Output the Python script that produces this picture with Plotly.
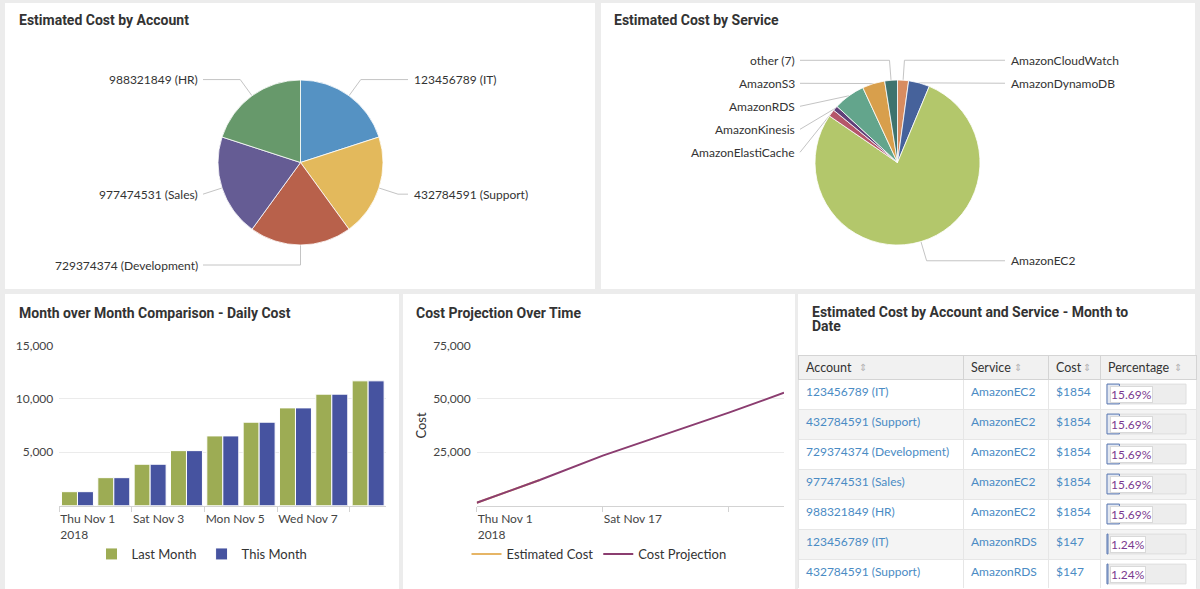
import math
import plotly.graph_objects as go

W, H = 1200, 589

# ---------------- data ----------------
account_labels = ["123456789 (IT)", "432784591 (Support)", "729374374 (Development)",
                  "977474531 (Sales)", "988321849 (HR)"]
account_costs = [2363, 2363, 2363, 2363, 2363]
account_colors = ["#5592c3", "#e3b95c", "#b8614b", "#655c94", "#67996b"]

service_labels = ["AmazonCloudWatch", "AmazonDynamoDB", "AmazonEC2", "AmazonElastiCache",
                  "AmazonKinesis", "AmazonRDS", "AmazonS3", "other (7)"]
service_costs = [256, 489, 9270, 164, 115, 735, 522, 295]
service_colors = ["#d88c60", "#46629b", "#b3c76b", "#b5566a", "#603f78", "#63a58c", "#d89f4c", "#3e736e"]

bar_days = ["2018-11-01 12:00", "2018-11-02 12:00", "2018-11-03 12:00", "2018-11-04 12:00",
            "2018-11-05 12:00", "2018-11-06 12:00", "2018-11-07 12:00", "2018-11-08 12:00",
            "2018-11-09 12:00"]
last_month_cost = [1311, 2622, 3876, 5150, 6526, 7809, 9148, 10431, 11676]
this_month_cost = [1311, 2622, 3876, 5150, 6526, 7809, 9148, 10431, 11676]
bar_tick_dates = ["2018-11-01", "2018-11-03", "2018-11-05", "2018-11-07", "2018-11-09"]
bar_tick_labels = ["Thu Nov 1<br>2018", "Sat Nov 3", "Mon Nov 5", "Wed Nov 7", ""]
bar_y_ticks = [5000, 10000, 15000]

proj_dates = ["2018-11-01", "2018-11-09", "2018-11-17", "2018-11-25", "2018-12-03", "2018-12-10"]
proj_cost = [1400, 12000, 23400, 33400, 43500, 52800]
est_dates = ["2018-11-01", "2018-11-09"]
est_cost = [1400, 12000]
proj_tick_dates = ["2018-11-01", "2018-11-17", "2018-12-03"]
proj_tick_labels = ["Thu Nov 1<br>2018", "Sat Nov 17", ""]
proj_y_ticks = [25000, 50000, 75000]

table_headers = ["Account", "Service", "Cost", "Percentage"]
table_accounts = ["123456789 (IT)", "432784591 (Support)", "729374374 (Development)",
                  "977474531 (Sales)", "988321849 (HR)", "123456789 (IT)", "432784591 (Support)"]
table_services = ["AmazonEC2", "AmazonEC2", "AmazonEC2", "AmazonEC2", "AmazonEC2",
                  "AmazonRDS", "AmazonRDS"]
table_costs = [1854, 1854, 1854, 1854, 1854, 147, 147]
table_pcts = [15.69, 15.69, 15.69, 15.69, 15.69, 1.24, 1.24]

# ---------------- style / layout constants ----------------
BG = "#ececec"
TXT = "#333333"
TICK = "#444444"
FONT = "Lato, 'Liberation Sans', sans-serif"
TFONT = "Roboto, 'Liberation Sans', sans-serif"
CONN = "#c4c4c4"
GRID = "#ebebeb"
AXLINE = "#d3d3d3"

PIE_R = 82.5
PIE_CY = 162.5
ACCT_CX = 300.5
SERV_CX = 897.5
LABEL_DIST = 20
LABEL_GAP = 23

panels = [(5, 3, 595, 289), (601, 3, 1195, 289), (5, 294, 399, 589),
          (403, 294, 795, 589), (798, 294, 1195, 589)]


def px(x):
    return x / W


def py(y):
    return 1 - y / H


def pie_label_geometry(cx, cy, r, values):
    total = float(sum(values))
    cum = 0.0
    items = []
    for v in values:
        mid = (cum + v / 2.0) / total * 2 * math.pi
        cum += v
        s, c = math.sin(mid), math.cos(mid)
        items.append(dict(s=s, c=c, ex=cx + r * s, ey=cy - r * c,
                          ny=cy - (r + LABEL_DIST) * c, right=s > 1e-6))
    for side in (True, False):
        grp = sorted([it for it in items if it["right"] == side], key=lambda it: it["ny"])
        prev = -1e9
        for it in grp:
            it["fy"] = max(it["ny"], prev + LABEL_GAP)
            prev = it["fy"]
    for it in items:
        ax = cx + 107.5 if it["right"] else cx - 97.5
        if abs(it["fy"] - it["ny"]) < 1:
            bx = cx + (r + LABEL_DIST) * it["s"]
            it["lx"] = [ax, bx, it["ex"]]
            it["ly"] = [it["fy"], it["fy"], it["ey"]]
        else:
            it["lx"] = [ax, it["ex"]]
            it["ly"] = [it["fy"], it["ey"]]
        it["tx"] = cx + 111.5 if it["right"] else cx - 100.5
    return items


fig = go.Figure()
annotations = []

# ---- pie connectors + labels ----
for cx, labels, values in ((ACCT_CX, account_labels, account_costs),
                           (SERV_CX, service_labels, service_costs)):
    geo = pie_label_geometry(cx, PIE_CY, PIE_R, values)
    for lab, g in zip(labels, geo):
        fig.add_trace(go.Scatter(x=g["lx"], y=g["ly"], mode="lines",
                                 line=dict(color=CONN, width=1), xaxis="x4", yaxis="y4",
                                 hoverinfo="skip", showlegend=False))
        annotations.append(dict(x=px(g["tx"]), y=py(g["fy"]), xref="paper", yref="paper",
                                text=lab, showarrow=False,
                                xanchor="left" if g["right"] else "right", yanchor="middle",
                                font=dict(family=FONT, size=12, color=TXT)))

# ---- pies ----
for cx, labels, values, colors in ((ACCT_CX, account_labels, account_costs, account_colors),
                                   (SERV_CX, service_labels, service_costs, service_colors)):
    fig.add_trace(go.Pie(labels=labels, values=values, sort=False, direction="clockwise",
                         rotation=0, textinfo="none", hoverinfo="skip", showlegend=False,
                         marker=dict(colors=colors, line=dict(color="white", width=0.8)),
                         domain=dict(x=[px(cx - PIE_R), px(cx + PIE_R)],
                                     y=[py(PIE_CY + PIE_R), py(PIE_CY - PIE_R)])))

# ---- month over month bars ----
fig.add_trace(go.Bar(x=bar_days, y=last_month_cost, name="Last Month", marker_color="#9dac54",
                     marker_line=dict(color="white", width=1), xaxis="x", yaxis="y",
                     legend="legend", offsetgroup="a", hoverinfo="skip"))
fig.add_trace(go.Bar(x=bar_days, y=this_month_cost, name="This Month", marker_color="#4653a0",
                     marker_line=dict(color="white", width=1), xaxis="x", yaxis="y",
                     legend="legend", offsetgroup="b", hoverinfo="skip"))

# ---- cost projection ----
fig.add_trace(go.Scatter(x=est_dates, y=est_cost, name="Estimated Cost", mode="lines",
                         line=dict(color="#e6b566", width=2), xaxis="x2", yaxis="y2",
                         legend="legend2", hoverinfo="skip"))
fig.add_trace(go.Scatter(x=proj_dates, y=proj_cost, name="Cost Projection", mode="lines",
                         line=dict(color="#8b3d70", width=2), xaxis="x2", yaxis="y2",
                         legend="legend2", hoverinfo="skip"))

# ---- table ----
n = len(table_accounts)
rows = list(range(n))
row_fill = ["#ffffff" if i % 2 == 0 else "#f4f4f4" for i in rows]
TABLE_X = (798, 1196)
COL_W = [165, 85, 52, 96]
PCT_COL = (TABLE_X[1] - COL_W[3], TABLE_X[1])   # percentage column pixel extents
TRACK = (1107, 1186)        # track pixel extents (0..100 %)
upp = 100.0 / (TRACK[1] - TRACK[0])
x3_range = [-(TRACK[0] - PCT_COL[0]) * upp, 100 + (PCT_COL[1] - TRACK[1]) * upp]
TABLE_TOP = 355
HEADER_H = 24
ROW_H = 30
rows_top = TABLE_TOP + HEADER_H
y3_range = [-0.5 + (H - rows_top) / ROW_H, -0.5]

fig.add_trace(go.Bar(y=rows, x=[x3_range[1] - x3_range[0]] * n, base=x3_range[0], orientation="h",
                     width=1, offset=-0.5, marker=dict(color=row_fill, line=dict(width=0)),
                     xaxis="x3", yaxis="y3", showlegend=False, hoverinfo="skip"))
fig.add_trace(go.Bar(y=rows, x=[100] * n, base=0, orientation="h", width=0.66, offset=-0.33,
                     marker=dict(color="#ededed", line=dict(color="#dedede", width=1)),
                     xaxis="x3", yaxis="y3", showlegend=False, hoverinfo="skip"))
fig.add_trace(go.Bar(y=rows, x=table_pcts, base=0, orientation="h", width=0.66, offset=-0.33,
                     marker=dict(color="#e3e8f1", line=dict(color="#5a79b5", width=1)),
                     xaxis="x3", yaxis="y3", showlegend=False, hoverinfo="skip"))
for i, p in zip(rows, table_pcts):
    annotations.append(dict(x=0, y=i, xref="x3", yref="y3", text=f"{p:.2f}%", showarrow=False,
                            xanchor="left", yanchor="middle", xshift=3,
                            font=dict(family=FONT, size=12, color="#7b3a8f"),
                            bgcolor="white", bordercolor="#d9d9d9", borderwidth=1, borderpad=0))

fig.add_trace(go.Table(
    domain=dict(x=[px(TABLE_X[0]), px(TABLE_X[1])], y=[0, py(TABLE_TOP)]),
    columnwidth=COL_W,
    header=dict(values=table_headers, fill_color="#f1f1f1", line_color="#d4d4d4", align="left",
                height=HEADER_H, font=dict(family=FONT, size=12.5, color=TXT)),
    cells=dict(values=[table_accounts, table_services,
                       [f"${c}" for c in table_costs], [""] * n],
               fill_color=[row_fill, row_fill, row_fill, ["rgba(0,0,0,0)"] * n],
               line_color="#e6e6e6", align="left", height=ROW_H,
               font=dict(family=FONT, size=12, color="#4a8bc4")),
))

# sort icons in the header
icon_x = [863, 1017.5, 1087, 1178]
for x in icon_x:
    annotations.append(dict(x=px(x), y=py(TABLE_TOP + HEADER_H / 2), xref="paper", yref="paper",
                            text="⇕", showarrow=False, xanchor="center", yanchor="middle",
                            font=dict(family="DejaVu Sans", size=10, color="#b5b5b5")))

# ---- titles ----
titles = [("Estimated Cost by Account", 16.5, 20), ("Estimated Cost by Service", 611.5, 20),
          ("Month over Month Comparison - Daily Cost", 16.5, 313),
          ("Cost Projection Over Time", 413.5, 313),
          ("Estimated Cost by Account and Service - Month to", 809.5, 312), ("Date", 809.5, 325.5)]
for t, x, y in titles:
    annotations.append(dict(x=px(x), y=py(y), xref="paper", yref="paper", text=f"<b>{t}</b>",
                            showarrow=False, xanchor="left", yanchor="middle",
                            font=dict(family=TFONT, size=14, color=TXT)))

shapes = [dict(type="rect", xref="paper", yref="paper", x0=px(a), x1=px(c), y0=py(d), y1=py(b),
               fillcolor="white", line=dict(width=0), layer="below") for a, b, c, d in panels]

PLOT_TOP, PLOT_BOT = 345.3, 505.7
xcommon = dict(type="date", showgrid=False, zeroline=False, showline=True, linecolor=AXLINE,
               ticks="outside", ticklen=5, tickcolor=AXLINE, ticklabelposition="outside right",
               ticklabelstandoff=2,
               tickfont=dict(family=FONT, size=12, color=TICK), fixedrange=True)
ycommon = dict(showgrid=True, gridcolor=GRID, gridwidth=1, zeroline=False, showline=False,
               ticks="", tickformat=",", tickfont=dict(family=FONT, size=12, color=TICK),
               ticklabelstandoff=5, fixedrange=True)

fig.update_layout(
    width=W, height=H, margin=dict(l=0, r=0, t=0, b=0, pad=0, autoexpand=False),
    paper_bgcolor=BG, plot_bgcolor="rgba(0,0,0,0)",
    barmode="group", bargap=0.12, bargroupgap=0.0, hovermode=False,
    xaxis=dict(xcommon, domain=[px(59.3), px(386.3)], range=["2018-11-01", "2018-11-10"],
               tickvals=bar_tick_dates, ticktext=bar_tick_labels, anchor="y"),
    yaxis=dict(ycommon, domain=[py(PLOT_BOT), py(PLOT_TOP)], range=[0, 15000],
               tickvals=bar_y_ticks, anchor="x"),
    xaxis2=dict(xcommon, domain=[px(476.7), px(784)], range=["2018-11-01", "2018-12-10"],
                tickvals=proj_tick_dates, ticktext=proj_tick_labels, anchor="y2"),
    yaxis2=dict(ycommon, domain=[py(PLOT_BOT), py(PLOT_TOP)], range=[0, 75000],
                tickvals=proj_y_ticks, anchor="x2",
                title=dict(text="Cost", standoff=3, font=dict(family=FONT, size=13, color=TXT))),
    xaxis3=dict(domain=[px(PCT_COL[0]), px(PCT_COL[1])], range=x3_range, visible=False,
                fixedrange=True, anchor="y3"),
    yaxis3=dict(domain=[0, py(rows_top)], range=y3_range, visible=False, fixedrange=True,
                anchor="x3"),
    xaxis4=dict(domain=[0, 1], range=[0, W], visible=False, fixedrange=True, anchor="y4"),
    yaxis4=dict(domain=[0, 1], range=[H, 0], visible=False, fixedrange=True, anchor="x4"),
    legend=dict(orientation="h", x=px(202), xanchor="center", y=py(554), yanchor="middle",
                font=dict(family=FONT, size=13, color=TXT), bgcolor="rgba(0,0,0,0)"),
    legend2=dict(orientation="h", x=px(599), xanchor="center", y=py(554), yanchor="middle",
                 font=dict(family=FONT, size=13, color=TXT), bgcolor="rgba(0,0,0,0)"),
    shapes=shapes,
    annotations=annotations,
)

fig.write_html("out.html")
